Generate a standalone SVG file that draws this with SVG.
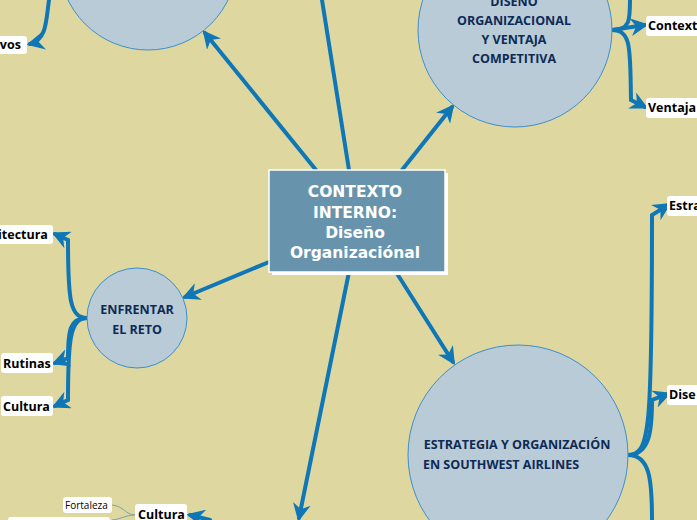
<svg xmlns="http://www.w3.org/2000/svg" width="697" height="520" viewBox="0 0 697 520">
<style>
.c{fill:#b9cbd6;stroke:#3d8fcc;stroke-width:1}
.l{fill:none;stroke:#0f77b6;stroke-width:4;stroke-linecap:round}
.lb{fill:#fff}
.t{font-family:"Open Sans","Liberation Sans",sans-serif;font-weight:bold;font-size:12.5px;fill:#000}
.ct{font-family:"Open Sans","Liberation Sans",sans-serif;font-weight:bold;font-size:12.5px;fill:#0d2a55;text-anchor:middle}
.mt{font-family:"DejaVu Sans","Liberation Sans",sans-serif;font-weight:bold;font-size:15.5px;fill:#fff;text-anchor:middle}
</style>
<defs>
<marker id="a" viewBox="0 0 10 10" refX="8" refY="5" markerWidth="4.5" markerHeight="4.5" orient="auto" markerUnits="strokeWidth"><path d="M0,0 L10,5 L0,10 L3,5 Z" fill="#0f77b6"/></marker>
</defs>
<rect width="697" height="520" fill="#dfd7a0"/>
<g id="connectors">
<path class="l" d="M316,170 L205,33" marker-end="url(#a)"/>
<path class="l" d="M349,170 L322,0"/>
<path class="l" d="M402,170 L452,107" marker-end="url(#a)"/>
<path class="l" d="M269,262 L185,297" marker-end="url(#a)"/>
<path class="l" d="M349,272 L299,518" marker-end="url(#a)"/>
<path class="l" d="M396,272 L453,362" marker-end="url(#a)"/>
<path class="l" d="M49,0 C46,20 47,40 30,44" marker-end="url(#a)"/>
<path class="l" d="M612,30 C630,30 630,20 630,0"/>
<path class="l" d="M612,30 L645,25" marker-end="url(#a)"/>
<path class="l" d="M612,30 C632,30 630,50 631,100 L645,107" marker-end="url(#a)"/>
<path class="l" d="M628,455 C650,455 652,430 652,215 L668,205" marker-end="url(#a)"/>
<path class="l" d="M628,455 C650,455 652,430 652,400 L668,394" marker-end="url(#a)"/>
<path class="l" d="M628,455 C650,455 652,480 652,520"/>
<path class="l" d="M87,318 C70,318 68,300 68,240 L55,234" marker-end="url(#a)"/>
<path class="l" d="M87,318 C70,318 68,330 68,358 L55,363" marker-end="url(#a)"/>
<path class="l" d="M87,318 C70,318 68,340 68,400 L55,406" marker-end="url(#a)"/>
<path class="l" d="M210,520 L190,515" marker-end="url(#a)"/>
<path d="M136,515 C125,515 124,506 112,505" fill="none" stroke="#7aa3a8" stroke-width="1"/>
<path d="M136,515 C125,515 122,519 112,520" fill="none" stroke="#7aa3a8" stroke-width="1"/>
</g>
<g id="n-topleft"><circle class="c" cx="148" cy="-39" r="89"/></g>
<g id="n-diseno">
<circle class="c" cx="515" cy="30" r="97"/>
<text class="ct" x="514" y="6">DISEÑO</text>
<text class="ct" x="514" y="25">ORGANIZACIONAL</text>
<text class="ct" x="514" y="44">Y VENTAJA</text>
<text class="ct" x="514" y="63">COMPETITIVA</text>
</g>
<g id="n-enfrentar">
<circle class="c" cx="137" cy="318" r="50"/>
<text class="ct" x="137" y="314">ENFRENTAR</text>
<text class="ct" x="137" y="334">EL RETO</text>
</g>
<g id="n-southwest">
<circle class="c" cx="518" cy="455" r="110"/>
<text class="ct" x="517" y="449">ESTRATEGIA Y ORGANIZACIÓN</text>
<text class="ct" x="501" y="469">EN SOUTHWEST AIRLINES</text>
</g>
<g id="n-center">
<rect x="272" y="173" width="176" height="102" fill="#fff"/>
<rect x="269" y="170" width="176" height="102" fill="#6794ac" stroke="#fff" stroke-width="1.5"/>
<text class="mt" x="355" y="197">CONTEXTO</text>
<text class="mt" x="355" y="218">INTERNO:</text>
<text class="mt" x="355" y="238">Diseño</text>
<text class="mt" x="355" y="258">Organizaciónal</text>
</g>
<g id="labels">
<rect class="lb" x="-5" y="36" width="32" height="18" rx="3"/><text class="t" x="-4" y="49">ivos</text>
<rect class="lb" x="646" y="16" width="60" height="20" rx="3"/><text class="t" x="648" y="30">Context</text>
<rect class="lb" x="646" y="98" width="60" height="20" rx="3"/><text class="t" x="648" y="112">Ventaja</text>
<rect class="lb" x="667" y="196" width="40" height="20" rx="3"/><text class="t" x="669" y="210">Estra</text>
<rect class="lb" x="667" y="385" width="40" height="20" rx="3"/><text class="t" x="669" y="399">Dise</text>
<rect class="lb" x="-5" y="225" width="58" height="19" rx="3"/><text class="t" x="-2" y="239">itectura</text>
<rect class="lb" x="1" y="353" width="52" height="20" rx="3"/><text class="t" x="3" y="368">Rutinas</text>
<rect class="lb" x="1" y="396" width="52" height="20" rx="3"/><text class="t" x="3" y="411">Cultura</text>
<rect class="lb" x="135" y="504" width="52" height="22" rx="3"/><text class="t" x="138" y="519">Cultura</text>
<rect class="lb" x="63" y="497" width="49" height="16" rx="3"/><text x="65" y="509" font-family="Open Sans,Liberation Sans,sans-serif" font-size="10">Fortaleza</text>
<rect class="lb" x="8" y="517" width="102" height="10" rx="3"/>
</g>
</svg>
